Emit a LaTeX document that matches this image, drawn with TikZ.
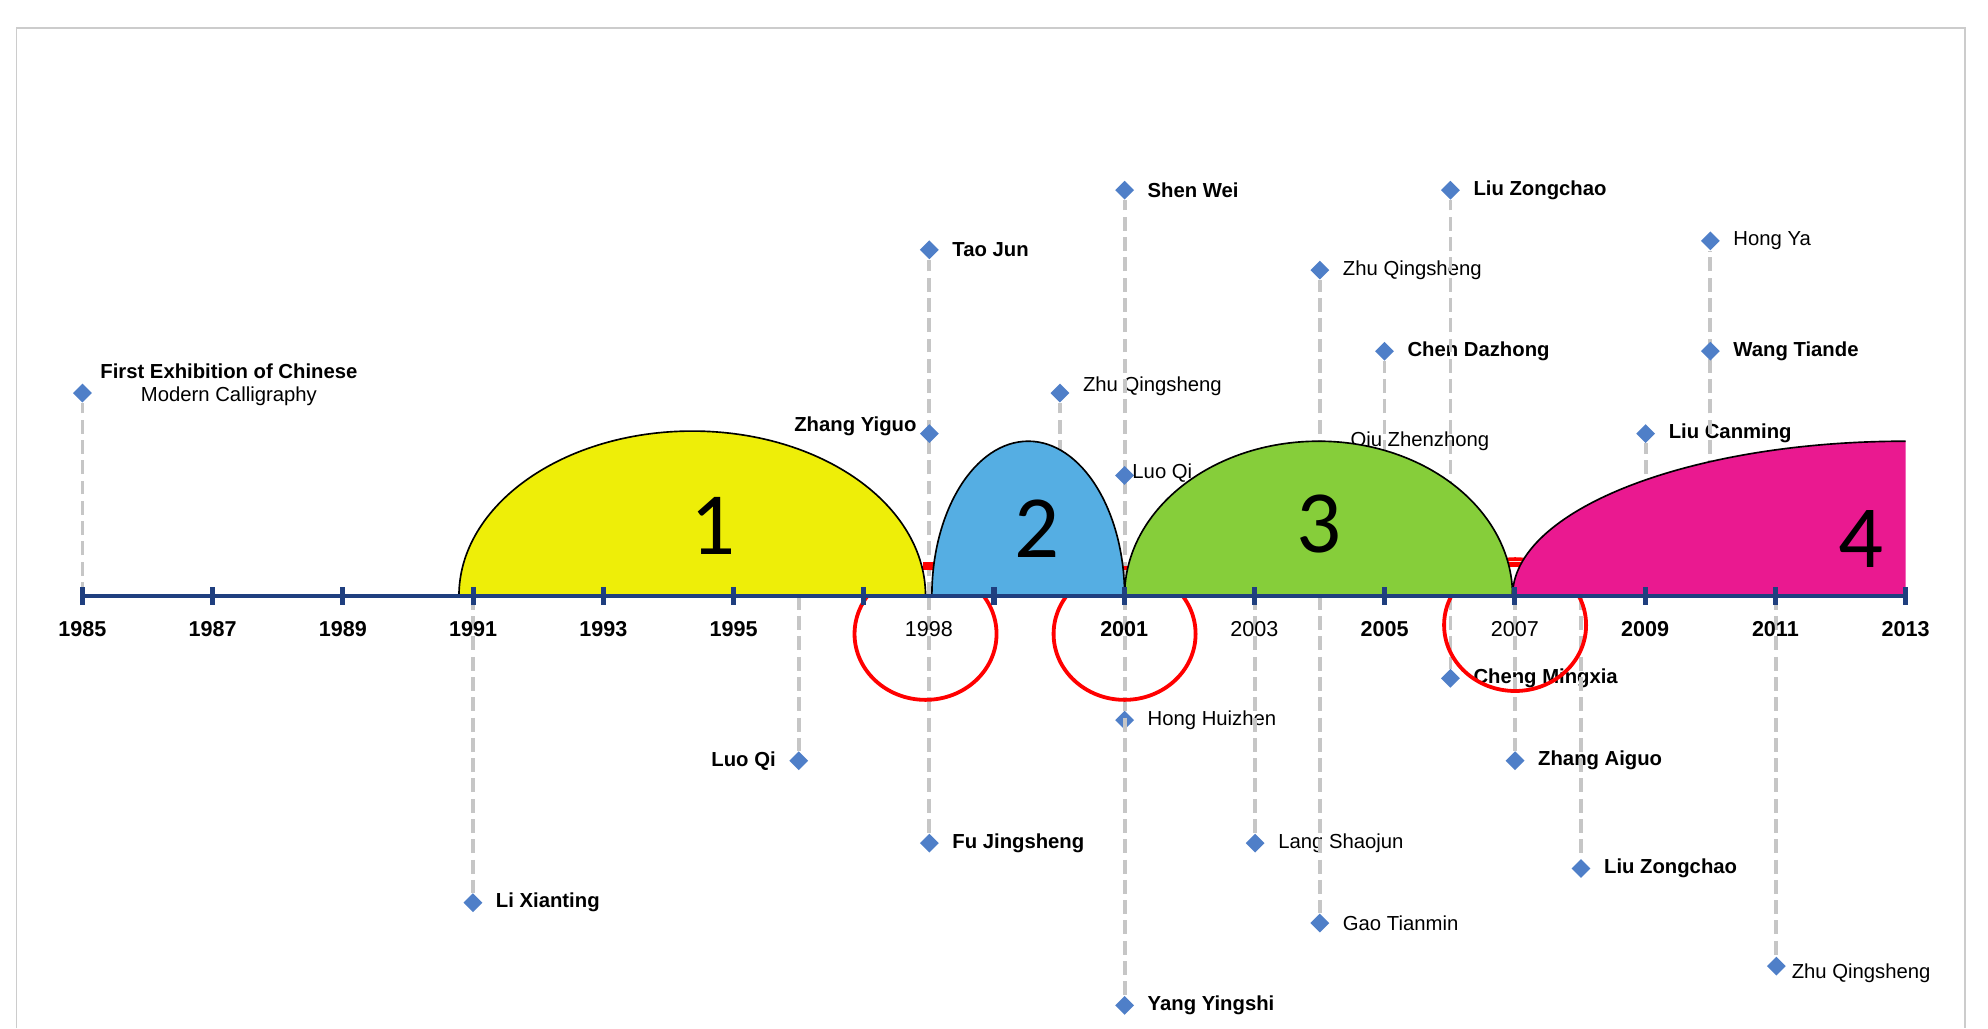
\documentclass[tikz,border=0pt]{standalone}
\usepackage{fontspec}
\setmainfont{Liberation Sans}
\newfontfamily\bigf{Carlito}
\usetikzlibrary{shapes.geometric,calc}
\definecolor{dia}{HTML}{4F7FC8}
\definecolor{yel}{HTML}{EEEE08}
\definecolor{blu}{HTML}{55AEE3}
\definecolor{grn}{HTML}{86CE3A}
\definecolor{mag}{HTML}{EA1990}
\definecolor{axc}{HTML}{1F3F7F}
\tikzset{
 dm/.style={diamond,fill=dia,inner sep=0pt,minimum size=15pt},
 stem/.style={gray!45,line width=3pt,dash pattern=on 11pt off 5pt},
 lb/.style={font=\fontsize{16}{18}\selectfont\bfseries,inner sep=2pt},
 ln/.style={font=\fontsize{16}{18}\selectfont,inner sep=2pt},
 yr/.style={font=\fontsize{17}{19}\selectfont\bfseries,anchor=north},
 yrn/.style={font=\fontsize{17}{19}\selectfont,anchor=north},
 shp/.style={draw=black,line width=1.3pt},
 num/.style={font=\bigf\fontsize{70}{70}\selectfont},
 redc/.style={draw=red,line width=3pt}
}
% \ev{name}{x}{y}{label}{style}{anchor}{label offset}
\newcommand{\ev}[7]{%
 \coordinate (a#1) at (#2,470);
 \node[dm] (#1) at (#2,#3) {};
 \draw[stem] (a#1) -- (#1);
 \node[#5,anchor=#6] at ($(#1)+#7$) {#4};
}
\begin{document}
\begin{tikzpicture}[x=1pt,y=-1pt]
\useasboundingbox (0,0) rectangle (1568,811);
\draw[gray!40,line width=1.5pt] (13,811) -- (13,22) -- (1550,22) -- (1550,811);
% stems and diamonds
\ev{e1}{65}{310}{\textbf{First Exhibition of Chinese}\\Modern Calligraphy}{ln,align=center}{south west}{(12,12)}
\ev{e2}{373}{712}{Li Xianting}{lb}{west}{(16,0)}
\ev{e3}{630}{600}{Luo Qi}{lb}{east}{(-16,0)}
\ev{e4}{733}{197}{Tao Jun}{lb}{west}{(16,0)}
\ev{e5}{733}{342}{Zhang Yiguo}{lb}{south east}{(-8,4)}
\ev{e6}{733}{665}{Fu Jingsheng}{lb}{west}{(16,0)}
\ev{e7}{836}{310}{Zhu Qingsheng}{ln}{south west}{(16,4)}
\ev{e8}{887}{150}{Shen Wei}{lb}{west}{(16,0)}
\ev{e9}{887}{375}{Luo Qi}{ln}{south west}{(4,8)}
\ev{e10}{887}{568}{Hong Huizhen}{ln}{west}{(16,0)}
\ev{e11}{887}{793}{Yang Yingshi}{lb}{west}{(16,0)}
\ev{e12}{990}{665}{Lang Shaojun}{ln}{west}{(16,0)}
\ev{e13}{1041}{213}{Zhu Qingsheng}{ln}{west}{(16,0)}
\ev{e14}{1041}{728}{Gao Tianmin}{ln}{west}{(16,0)}
\ev{e15}{1041}{372}{Qiu Zhenzhong}{ln}{south west}{(22,-14)}
\ev{e16}{1092}{277}{Chen Dazhong}{lb}{west}{(16,0)}
\ev{e17}{1144}{150}{Liu Zongchao}{lb}{west}{(16,0)}
\ev{e18}{1144}{535}{Cheng Mingxia}{lb}{west}{(16,0)}
\ev{e19}{1195}{600}{Zhang Aiguo}{lb}{west}{(16,0)}
\ev{e20}{1247}{685}{Liu Zongchao}{lb}{west}{(16,0)}
\ev{e21}{1298}{342}{Liu Canming}{lb}{west}{(16,0)}
\ev{e22}{1349}{190}{Hong Ya}{ln}{west}{(16,0)}
\ev{e23}{1349}{277}{Wang Tiande}{lb}{west}{(16,0)}
\ev{e24}{1401}{762}{Zhu Qingsheng}{ln}{north west}{(10,-4)}
% red circles
\draw[redc] (730,500) ellipse (56 and 52);
\draw[redc] (887,500) ellipse (56 and 52);
\draw[redc] (1195,493) ellipse (56 and 52);
\draw[red,line width=4pt] (728,445) -- (738,445);
\draw[red,line width=4pt] (1190,445) -- (1202,445);
% shapes
\draw[shp,fill=yel] (362,470) arc[start angle=180,end angle=360,x radius=184,y radius=130] -- cycle;
\draw[shp,fill=blu] (735,470) arc[start angle=180,end angle=360,x radius=76,y radius=122] -- cycle;
\draw[shp,fill=grn] (887,470) arc[start angle=180,end angle=360,x radius=153,y radius=122] -- cycle;
\fill[mag] (1193,470) arc[start angle=180,end angle=270,x radius=310,y radius=122] -- (1503,470) -- cycle;
\draw[shp] (1193,470) arc[start angle=180,end angle=270,x radius=310,y radius=122];
\node[num] (n1) at (562,415) {1};
\node[num] (n2) at (818,417) {2};
\node[num] (n3) at (1040,413) {3};
\node[num] (n4) at (1468,425) {4};
% axis
\draw[axc,line width=3pt] (65,470) -- (1503,470);
\foreach \i in {0,...,14} {
  \pgfmathsetmacro{\xx}{65+2*\i*51.357}
  \draw[axc,line width=4pt] (\xx,463) -- (\xx,477);
}
\foreach \yv/\st in {1985/yr,1987/yr,1989/yr,1991/yr,1993/yr,1995/yr,1998/yrn,2001/yr,2003/yrn,2005/yr,2007/yrn,2009/yr,2011/yr,2013/yr} {
  \pgfmathsetmacro{\xx}{65+(\yv-1985)*51.357}
  \node[\st] at (\xx,487) {\yv};
}
\end{tikzpicture}
\end{document}
